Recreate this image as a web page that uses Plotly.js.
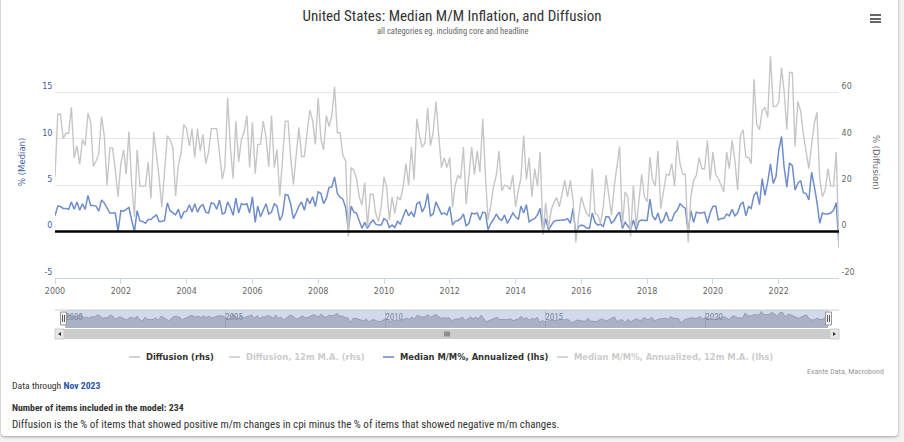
<!DOCTYPE html>
<html>
<head>
<meta charset="utf-8">
<script src="https://cdn.plot.ly/plotly-3.0.1.min.js"></script>
<style>
  html, body { margin: 0; padding: 0; width: 904px; height: 442px; overflow: hidden; background: #f3f3f3; }
  #card { position: absolute; left: 1px; top: -6px; width: 897px; height: 442px; background: #fff;
          border-radius: 4px; box-shadow: 0 1px 3px rgba(0,0,0,0.35); }
  #chart { position: absolute; left: 0; top: 0; width: 904px; height: 442px; }
  #menu { position: absolute; left: 870px; top: 14px; width: 11px; height: 9px; }
  #menu span { display: block; height: 2px; background: #666; margin-bottom: 1.5px; }
  .note { position: absolute; left: 12px; color: #333; white-space: nowrap;
          font-family: "Liberation Sans Narrow", "Roboto Condensed", "Roboto", sans-serif; }
  #n1 { top: 380px; font-size: 9.7px; }
  #n1 b { color: #2a55a5; }
  #n2 { top: 402px; font-size: 9.8px; font-weight: bold; }
  #n3 { top: 418px; font-size: 11px; }
</style>
</head>
<body>
<div id="card"></div>
<div id="chart"></div>
<div id="menu"><span></span><span></span><span></span></div>
<div class="note" id="n1">Data through <b>Nov 2023</b></div>
<div class="note" id="n2">Number of items included in the model: 234</div>
<div class="note" id="n3">Diffusion is the % of items that showed positive m/m changes in cpi minus the % of items that showed negative m/m changes.</div>
<script>
// Monthly observations, January 2000 onward
const startYear = 2000;
const startMonth = 1;

// Diffusion index, % of items rising minus % falling (right axis)
const diffusion = [
  23.6, 50.7, 50.7, 40, 42.4, 42.4, 53.6, 31.7, 36.9, 29, 39.7, 37.1,
  51, 47.1, 28.1, 30.4, 33.6, 49.6, 41.4, 20, 36.1, 36.1, 26.4, 15,
  29.3, 35.3, 24.7, 43.1, 21, 6.4, 35.3, 19.6, 19.6, 19.6, 30, 14.3,
  43, 33.6, 23.6, 10.4, 27.1, 41.3, 39.6, 36.4, 15.4, 28.6, 33.9, 46.1,
  44.3, 36.9, 44.3, 31.9, 44.3, 34.7, 41.9, 29.3, 34.3, 44.4, 44.4, 44.4,
  33.6, 22.6, 27.9, 57.6, 36.4, 22.9, 47.6, 30, 39.7, 42.9, 50, 27.6,
  47.1, 25, 37.6, 37.6, 47.6, 40.7, 27.9, 50, 27.6, 35.3, 15.3, 29.7,
  47.6, 47.6, 32.1, 20.3, 32.1, 45, 32.4, 32.4, 43.1, 52.4, 47.6, 37.6,
  57.6, 39.6, 35.3, 50, 45.3, 50, 62.4, 42.6, 42.6, 32.9, 30.4, -2.1,
  27.6, 26.4, 22.9, 15, 11.4, 21, 2.1, 16.1, 16.1, 7.9, 4.3, 10.7,
  23.6, 18.6, 5, 15, 7.9, 15, 13.6, 19.3, 29.3, 20, 36.4, 22.4,
  48.6, 41, 36.4, 38.1, 53.3, 37.1, 42.9, 56.1, 41.4, 27.6, 31.9, 27.6,
  31.9, 10.4, 20, 24.3, 22.9, 36.4, 11.9, 23.6, 36.4, 24.7, 34.7, 25.7,
  48.6, 23.6, 5, 11.4, 19.3, 24.3, 34.7, 17.6, 20, 19.6, 18.1, 24.3,
  10.7, 17.9, 22.9, 41.4, 22.4, 31.9, 15, 27.1, 19.6, 34.3, -1.4, 12.4,
  1.4, 9.3, 12.4, 14.7, 10.7, 16.1, 22.1, 15, 22.1, 13.6, -4.7, 6.4,
  15, 10.7, 7.9, 6.4, 27.1, 7.9, 7.1, 3.6, 10.7, 24.3, 16.4, 7.1,
  19.6, 28.6, 36.7, 2.4, 17.1, 15, -2.1, 20, 2.1, 12.9, 24.7, 15,
  12.9, 32.1, 22.4, 19.6, 34.7, 10, 17.9, 24.7, 24.3, 29.3, 19.6, 39.3,
  29.3, 24.7, 24.7, -4.7, 15, 22.1, 24.3, 31.9, 27.1, 27.1, 39.3, 22.1,
  34.3, 24.7, 22.9, 20, 17.1, 34.3, 27.1, 39.3, 30.7, 17.9, 41.4, 43.9,
  32.1, 31.9, 29.3, 65.7, 46.4, 43.9, 52.1, 53.6, 49.3, 75.7, 53.9, 53.9,
  55.7, 70.7, 60.7, 43.9, 68.6, 68.6, 36.7, 56.1, 51.9, 42.1, 35, 27.1,
  37.6, 46.7, 51.4, 22.9, 15, 17.9, 27.1, 19.6, 19.6, 34.3, -7.1
];

// Median m/m price change, annualized % (left axis)
const medianMM = [
  1.7, 2.75, 2.7, 2.5, 2.5, 2.4, 3.2, 2.4, 3.2, 2.3, 3.0, 2.4,
  3.9, 2.8, 2.8, 2.75, 2.2, 3.4, 3.1, 2.5, 2.0, 2.0, 2.0, 0,
  2.25, 2.2, 2.4, 2.6, 1.25, 0, 2.25, 1.15, 1.1, 0.9, 1.3, 1.3,
  1.6, 1.8, 1.1, 1.1, 1.2, 3.1, 2.25, 2.0, 1.8, 2.4, 1.4, 2.1,
  2.2, 2.9, 2.1, 3.0, 2.1, 2.7, 2.9, 2.1, 2.0, 3.1, 3.0, 2.4,
  3.4, 1.9, 2.0, 3.2, 2.6, 1.75, 3.6, 2.0, 3.0, 2.9, 3.0, 2.0,
  3.75, 1.0, 2.75, 1.6, 2.3, 3.0, 1.9, 2.1, 3.0, 2.75, 1.2, 1.8,
  4.0, 3.9, 3.0, 1.4, 2.0, 2.75, 3.2, 2.3, 3.6, 3.0, 3.75, 2.7,
  4.3, 4.1, 3.0, 3.6, 4.75, 4.8, 5.9, 4.1, 3.7, 3.5, 2.6, 0.2,
  2.75, 2.1, 2.0, 1.1, 0.35, 1.0, 0.35, 0.9, 1.25, 0.8, 0.7, 0.7,
  1.4, 1.2, 0.45, 0.7, 0.45, 1.1, 0.8, 1.6, 2.4, 1.7, 2.1, 1.6,
  3.0, 3.2, 2.1, 2.7, 4.1, 1.7, 1.9, 3.2, 2.5, 1.9, 2.0, 1.8,
  2.7, 0.7, 1.1, 1.2, 1.4, 1.9, 0.6, 0.9, 2.0, 1.9, 2.0, 1.25,
  2.1, 2.0, 0.2, 0.9, 1.3, 1.9, 1.4, 1.2, 1.8, 0.9, 1.4, 2.0,
  1.6, 1.3, 2.75, 2.0, 2.9, 1.0, 1.3, 1.4, 1.8, 2.5, 0, 1.4,
  0.2, 0.7, 1.1, 1.2, 1.25, 1.25, 1.25, 1.4, 0.9, 2.5, -0.35, 0.55,
  0.7, 0.6, 0.35, 0.35, 2.0, 1.0, 0.7, 0.8, 0.55, 1.6, 1.6, 0.9,
  1.2, 1.8, 2.1, 0.35, 1.0, 0.55, 0.2, 1.25, 0.2, 1.1, 1.25, 1.2,
  1.2, 3.5, 1.7, 1.25, 2.0, 0.9, 1.25, 2.1, 1.2, 1.2, 2.0, 2.3,
  3.0, 2.7, 2.5, -0.1, 2.25, 1.0, 2.1, 2.0, 2.0, 2.1, 0.9, 2.0,
  2.7, 2.75, 1.25, 1.4, 1.4, 1.9, 1.7, 2.4, 1.7, 2.0, 2.9, 3.2,
  1.7, 2.7, 2.5, 3.9, 4.3, 2.9, 5.7, 3.9, 5.4, 7.3, 5.2, 5.9,
  8.75, 10.25, 7.0, 4.8, 7.4, 7.1, 4.5, 5.2, 5.5, 4.2, 4.1, 3.4,
  6.4, 4.8, 3.2, 0.9, 2.0, 1.9, 1.9, 2.0, 2.3, 3.1, -1.6
];

// Axis ticks
const leftTickVals = [-5, 0, 5, 10, 15, 20];
const leftTickText = ['-5', '0', '5', '10', '15', ''];
const rightTickVals = [-20, 0, 20, 40, 60, 80];
const rightTickText = ['-20', '0', '20', '40', '60', ''];

// Legend entries; the moving-average series are switched off
const legendNames = ['Diffusion (rhs)', 'Diffusion, 12m M.A. (rhs)',
                     'Median M/M%, Annualized (lhs)', 'Median M/M%, Annualized, 12m M.A. (lhs)'];
const legendShown = [true, false, true, false];

// ---- build the monthly date axis ----
const dates = diffusion.map((_, i) => {
  const m = startMonth - 1 + i;
  const y = startYear + Math.floor(m / 12);
  const mm = (m % 12) + 1;
  return y + '-' + String(mm).padStart(2, '0') + '-01';
});
const xRange = [dates[0], dates[dates.length - 1]];

// ---- geometry (pixels) ----
const P = { l: 55, r: 839, t: 46, b: 339 };
const MAIN = { top: 46, bottom: 278 };
const NAV = { top: 310, bottom: 328, left: 65, right: 828 };
const px = x => (x - P.l) / (P.r - P.l);
const py = y => (P.b - y) / (P.b - P.t);

const UI_FONT = '"DejaVu Sans", "Lucida Grande", Verdana, sans-serif';
const TITLE_FONT = '"Liberation Sans Narrow", "Roboto Condensed", "Roboto", sans-serif';
const GRAY_LINE = '#c6c6c6';
const BLUE_LINE = '#6e8dca';
const AXIS_BLUE = '#3e5ea6';

// navigator: shifted so the area fills down to the bottom of its box
const NAV_BASE = 42;
const navValues = diffusion.map(v => v + NAV_BASE);

const traces = [
  { x: dates, y: diffusion, type: 'scatter', mode: 'lines', name: legendNames[0],
    xaxis: 'x', yaxis: 'y2', line: { color: GRAY_LINE, width: 1.4 }, hoverinfo: 'skip' },
  { x: dates, y: medianMM, type: 'scatter', mode: 'lines', name: legendNames[2],
    xaxis: 'x', yaxis: 'y', line: { color: BLUE_LINE, width: 1.5 }, hoverinfo: 'skip' },
  { x: dates, y: navValues, type: 'scatter', mode: 'lines', fill: 'tozeroy',
    fillcolor: 'rgba(128,128,128,0.45)', xaxis: 'x2', yaxis: 'y3',
    line: { color: 'rgba(110,110,110,0.55)', width: 0.8 }, hoverinfo: 'skip' }
];

const shapes = [];
const annotations = [];

// zero reference line
shapes.push({ type: 'line', xref: 'paper', yref: 'y', x0: 0, x1: 1, y0: 0, y1: 0,
  line: { color: '#000', width: 2.5 }, layer: 'above' });

// navigator mask, outline and handles
shapes.push({ type: 'rect', xref: 'paper', yref: 'paper', x0: px(NAV.left + 1), x1: px(NAV.right),
  y0: py(NAV.bottom), y1: py(NAV.top), fillcolor: 'rgba(102,133,194,0.3)', line: { width: 0 }, layer: 'above' });
shapes.push({ type: 'line', xref: 'paper', yref: 'paper', x0: px(P.l), x1: px(P.r),
  y0: py(NAV.top), y1: py(NAV.top), line: { color: '#cccccc', width: 1 }, layer: 'above' });
[NAV.left - 2, NAV.right].forEach(hx => {
  shapes.push({ type: 'rect', xref: 'paper', yref: 'paper', x0: px(hx - 2.5), x1: px(hx + 3.5),
    y0: py(NAV.top + 15), y1: py(NAV.top + 2), fillcolor: '#f2f2f2', line: { color: '#999', width: 1 }, layer: 'above' });
  [hx - 0.5, hx + 1.5].forEach(gx => shapes.push({ type: 'line', xref: 'paper', yref: 'paper',
    x0: px(gx), x1: px(gx), y0: py(NAV.top + 12), y1: py(NAV.top + 5),
    line: { color: '#333', width: 0.8 }, layer: 'above' }));
});

// scrollbar
const SB = { top: 329, bottom: 339 };
shapes.push({ type: 'rect', xref: 'paper', yref: 'paper', x0: px(P.l), x1: px(P.r),
  y0: py(SB.bottom), y1: py(SB.top), fillcolor: '#f2f2f2', line: { width: 0 }, layer: 'above' });
shapes.push({ type: 'rect', xref: 'paper', yref: 'paper', x0: px(P.l + 9), x1: px(P.r - 9),
  y0: py(SB.bottom), y1: py(SB.top), fillcolor: '#cccccc', line: { width: 0 }, layer: 'above' });
[[P.l, P.l + 9, -1], [P.r - 9, P.r, 1]].forEach(([a, b, dir]) => {
  shapes.push({ type: 'rect', xref: 'paper', yref: 'paper', x0: px(a), x1: px(b),
    y0: py(SB.bottom), y1: py(SB.top), fillcolor: '#e6e6e6', line: { color: '#cccccc', width: 1 }, layer: 'above' });
  const cx = (a + b) / 2, cy = (SB.top + SB.bottom) / 2;
  const tip = cx + dir * 1.5, back = cx - dir * 1.5;
  shapes.push({ type: 'path', xref: 'paper', yref: 'paper',
    path: 'M' + px(back) + ',' + py(cy - 2) + ' L' + px(tip) + ',' + py(cy) + ' L' + px(back) + ',' + py(cy + 2) + ' Z',
    fillcolor: '#333', line: { width: 0 }, layer: 'above' });
});
const gripX = (P.l + P.r) / 2;
[-2, 0, 2].forEach(d => shapes.push({ type: 'line', xref: 'paper', yref: 'paper',
  x0: px(gripX + d), x1: px(gripX + d), y0: py(SB.top + 2.5), y1: py(SB.bottom - 2.5),
  line: { color: '#333', width: 0.8 }, layer: 'above' }));

// subtitle
annotations.push({ text: 'all categories eg. including core and headline', xref: 'paper', yref: 'paper',
  x: px(452), y: py(31), xanchor: 'center', yanchor: 'middle', showarrow: false,
  font: { family: TITLE_FONT, size: 8.5, color: '#666' } });

// axis titles
annotations.push({ text: '% (Median)', xref: 'paper', yref: 'paper', x: px(22), y: py(162),
  xanchor: 'center', yanchor: 'middle', textangle: -90, showarrow: false,
  font: { family: UI_FONT, size: 8.5, color: AXIS_BLUE } });
annotations.push({ text: '% (Diffusion)', xref: 'paper', yref: 'paper', x: px(876), y: py(162),
  xanchor: 'center', yanchor: 'middle', textangle: 90, showarrow: false,
  font: { family: UI_FONT, size: 8.5, color: '#666' } });

// legend
const legendX = [129, 229, 383, 557];
const legendY = 357;
const legendSymbolColor = [GRAY_LINE, '#cccccc', BLUE_LINE, '#cccccc'];
legendNames.forEach((name, i) => {
  const on = legendShown[i];
  shapes.push({ type: 'line', xref: 'paper', yref: 'paper', x0: px(legendX[i]), x1: px(legendX[i] + 11),
    y0: py(legendY), y1: py(legendY), line: { color: legendSymbolColor[i], width: 1.6 } });
  annotations.push({ text: name, xref: 'paper', yref: 'paper', x: px(legendX[i] + 15), y: py(legendY),
    xanchor: 'left', yanchor: 'middle', showarrow: false,
    font: { family: UI_FONT, size: 8.4, weight: 'bold', color: on ? '#333333' : '#cccccc' } });
});

// credits
annotations.push({ text: 'Exante Data, Macrobond', xref: 'paper', yref: 'paper', x: px(886), y: py(372),
  xanchor: 'right', yanchor: 'middle', showarrow: false,
  font: { family: TITLE_FONT, size: 8, color: '#999' } });

const layout = {
  width: 904, height: 442,
  margin: { l: P.l, r: 904 - P.r, t: P.t, b: 442 - P.b, pad: 0 },
  paper_bgcolor: 'rgba(0,0,0,0)', plot_bgcolor: 'rgba(0,0,0,0)',
  showlegend: false,
  title: { text: 'United States: Median M/M Inflation, and Diffusion', xref: 'container', x: 0.5,
    yref: 'container', y: 1 - 16 / 442, xanchor: 'center', yanchor: 'middle',
    font: { family: TITLE_FONT, size: 15, color: '#333' } },
  xaxis: { type: 'date', range: xRange, domain: [0, 1], anchor: 'y',
    tick0: '2000-01-01', dtick: 'M24', tickformat: '%Y',
    ticks: 'outside', ticklen: 5, tickcolor: '#ccd6eb', showline: true, linecolor: '#ccd6eb',
    showgrid: false, zeroline: false, fixedrange: true,
    tickfont: { family: UI_FONT, size: 8, color: '#666' } },
  yaxis: { domain: [py(MAIN.bottom), py(MAIN.top)], range: [-5, 20],
    tickmode: 'array', tickvals: leftTickVals, ticktext: leftTickText,
    ticks: 'outside', ticklen: 9, tickcolor: 'rgba(0,0,0,0)', ticklabelposition: 'outside top',
    gridcolor: '#e6e6e6', zeroline: false, showline: false, fixedrange: true,
    tickfont: { family: UI_FONT, size: 8, color: AXIS_BLUE } },
  yaxis2: { overlaying: 'y', side: 'right', range: [-20, 80],
    tickmode: 'array', tickvals: rightTickVals, ticktext: rightTickText,
    ticks: 'outside', ticklen: 9, tickcolor: 'rgba(0,0,0,0)', ticklabelposition: 'outside top',
    showgrid: false, zeroline: false, showline: false, fixedrange: true,
    tickfont: { family: UI_FONT, size: 8, color: '#666' } },
  xaxis2: { type: 'date', range: xRange, domain: [px(NAV.left), px(NAV.right)], anchor: 'y3',
    tick0: '2000-01-01', dtick: 'M60', tickformat: '%Y', ticks: '',
    ticklabelposition: 'inside right', showgrid: true, gridcolor: '#d9d9d9', gridwidth: 1,
    showline: false, zeroline: false, fixedrange: true,
    tickfont: { family: TITLE_FONT, size: 9, color: '#8a8a8a' } },
  yaxis3: { domain: [py(NAV.bottom), py(NAV.top)], range: [0, 128], anchor: 'x2',
    visible: false, fixedrange: true },
  shapes: shapes,
  annotations: annotations
};

Plotly.newPlot('chart', traces, layout, { displayModeBar: false, staticPlot: true });
</script>
</body>
</html>
